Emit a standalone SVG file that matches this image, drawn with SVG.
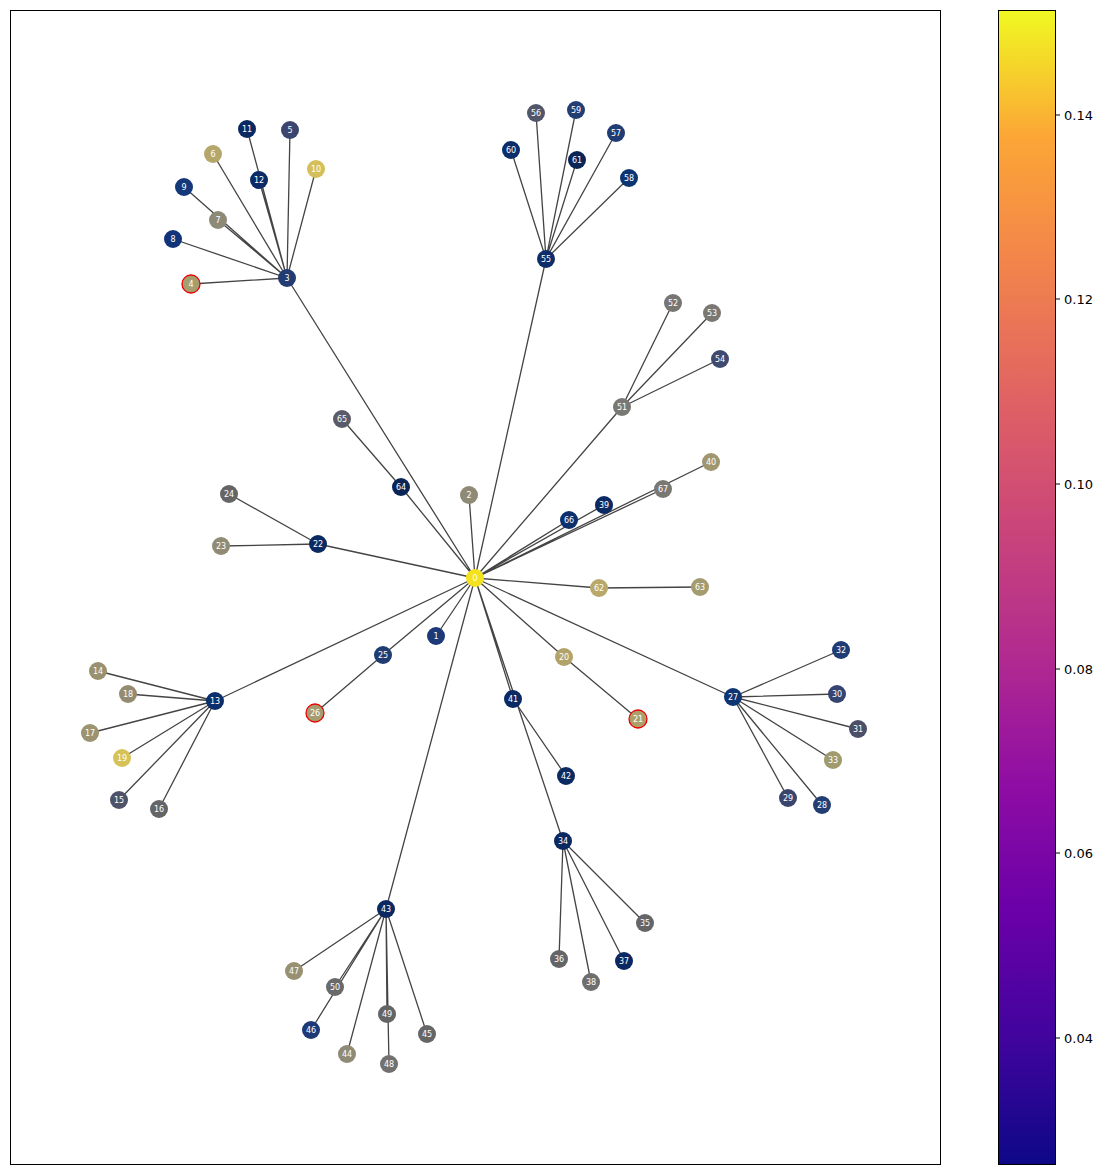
<svg xmlns="http://www.w3.org/2000/svg" width="1106" height="1175" viewBox="0 0 1106 1175">
<defs>
<linearGradient id="pl" x1="0" y1="1" x2="0" y2="0">
<stop offset="0" stop-color="#0d0887"/><stop offset="0.11" stop-color="#41049d"/><stop offset="0.22" stop-color="#6a00a8"/><stop offset="0.33" stop-color="#8f0da4"/><stop offset="0.44" stop-color="#b12a90"/><stop offset="0.56" stop-color="#cc4778"/><stop offset="0.67" stop-color="#e16462"/><stop offset="0.78" stop-color="#f2844b"/><stop offset="0.89" stop-color="#fca636"/><stop offset="1" stop-color="#f0f921"/>
</linearGradient>
<style>
.e{stroke:#444;stroke-width:1.3;fill:none}
.n circle{stroke:none}
text{font-family:"DejaVu Sans",sans-serif;font-size:8px;fill:#fff;text-anchor:middle;dominant-baseline:central}
.t{font-size:13px;fill:#000;text-anchor:start}
.n circle.r{stroke:#e00;stroke-width:1.3}
</style>
</defs>
<rect width="1106" height="1175" fill="#fff"/>
<rect x="10.5" y="10.5" width="930" height="1154" fill="none" stroke="#000"/>
<g id="edges">
<path class="e" d="M475 578L287 278M475 578L401 487M475 578L469 495M475 578L546 259M475 578L622 407M475 578L569 520M475 578L604 505M475 578L663 489M475 578L711 462M475 578L599 588M475 578L564 657M475 578L733 697M475 578L513 699M475 578L563 841M475 578L386 909M475 578L436 636M475 578L383 655M475 578L215 701M475 578L318 544"/>
<path class="e" d="M287 278L191 284M287 278L173 239M287 278L184 187M287 278L218 220M287 278L213 154M287 278L247 129M287 278L259 180M287 278L290 130M287 278L316 169"/>
<path class="e" d="M401 487L342 419M546 259L536 113M546 259L511 150M546 259L576 110M546 259L577 160M546 259L616 133M546 259L629 178M622 407L673 303M622 407L712 313M622 407L720 359M599 588L700 587M564 657L638 719M383 655L315 713M318 544L229 494M318 544L221 546"/>
<path class="e" d="M215 701L98 671M215 701L128 694M215 701L90 733M215 701L122 758M215 701L119 800M215 701L159 809"/>
<path class="e" d="M733 697L841 650M733 697L837 694M733 697L858 729M733 697L833 760M733 697L788 798M733 697L822 805"/>
<path class="e" d="M513 699L566 776M563 841L645 923M563 841L624 961M563 841L591 982M563 841L559 959"/>
<path class="e" d="M386 909L294 971M386 909L335 987M386 909L311 1030M386 909L347 1054M386 909L387 1014M386 909L389 1064M386 909L427 1034"/>
</g>
<g class="n">
<g id="n0"><circle cx="475" cy="578" r="9" fill="#f5e21f"/><text x="475" y="578">0</text></g>
<g id="n1"><circle cx="436" cy="636" r="9" fill="#1d3a78"/><text x="436" y="636">1</text></g>
<g id="n2"><circle cx="469" cy="495" r="9" fill="#8f8a75"/><text x="469" y="495">2</text></g>
<g id="n3"><circle cx="287" cy="278" r="9" fill="#223b70"/><text x="287" y="278">3</text></g>
<g id="n4"><circle cx="191" cy="284" r="9" fill="#a59e6f" class="r"/><text x="191" y="284">4</text></g>
<g id="n5"><circle cx="290" cy="130" r="9" fill="#3b4670"/><text x="290" y="130">5</text></g>
<g id="n6"><circle cx="213" cy="154" r="9" fill="#b5a76a"/><text x="213" y="154">6</text></g>
<g id="n7"><circle cx="218" cy="220" r="9" fill="#8d8a78"/><text x="218" y="220">7</text></g>
<g id="n8"><circle cx="173" cy="239" r="9" fill="#10337a"/><text x="173" y="239">8</text></g>
<g id="n9"><circle cx="184" cy="187" r="9" fill="#15387a"/><text x="184" y="187">9</text></g>
<g id="n10"><circle cx="316" cy="169" r="9" fill="#d4bf5a"/><text x="316" y="169">10</text></g>
<g id="n11"><circle cx="247" cy="129" r="9" fill="#0b2862"/><text x="247" y="129">11</text></g>
<g id="n12"><circle cx="259" cy="180" r="9" fill="#0b2a66"/><text x="259" y="180">12</text></g>
<g id="n13"><circle cx="215" cy="701" r="9" fill="#0d2e6c"/><text x="215" y="701">13</text></g>
<g id="n14"><circle cx="98" cy="671" r="9" fill="#999170"/><text x="98" y="671">14</text></g>
<g id="n15"><circle cx="119" cy="800" r="9" fill="#4e5368"/><text x="119" y="800">15</text></g>
<g id="n16"><circle cx="159" cy="809" r="9" fill="#656466"/><text x="159" y="809">16</text></g>
<g id="n17"><circle cx="90" cy="733" r="9" fill="#9c9470"/><text x="90" y="733">17</text></g>
<g id="n18"><circle cx="128" cy="694" r="9" fill="#938c73"/><text x="128" y="694">18</text></g>
<g id="n19"><circle cx="122" cy="758" r="9" fill="#d6c259"/><text x="122" y="758">19</text></g>
<g id="n20"><circle cx="564" cy="657" r="9" fill="#b2a36a"/><text x="564" y="657">20</text></g>
<g id="n21"><circle cx="638" cy="719" r="9" fill="#ae9f6a" class="r"/><text x="638" y="719">21</text></g>
<g id="n22"><circle cx="318" cy="544" r="9" fill="#0b2a62"/><text x="318" y="544">22</text></g>
<g id="n23"><circle cx="221" cy="546" r="9" fill="#918b75"/><text x="221" y="546">23</text></g>
<g id="n24"><circle cx="229" cy="494" r="9" fill="#666566"/><text x="229" y="494">24</text></g>
<g id="n25"><circle cx="383" cy="655" r="9" fill="#203c73"/><text x="383" y="655">25</text></g>
<g id="n26"><circle cx="315" cy="713" r="9" fill="#a59d6f" class="r"/><text x="315" y="713">26</text></g>
<g id="n27"><circle cx="733" cy="697" r="9" fill="#0f3472"/><text x="733" y="697">27</text></g>
<g id="n28"><circle cx="822" cy="805" r="9" fill="#223e73"/><text x="822" y="805">28</text></g>
<g id="n29"><circle cx="788" cy="798" r="9" fill="#3a456e"/><text x="788" y="798">29</text></g>
<g id="n30"><circle cx="837" cy="694" r="9" fill="#354470"/><text x="837" y="694">30</text></g>
<g id="n31"><circle cx="858" cy="729" r="9" fill="#4b4f68"/><text x="858" y="729">31</text></g>
<g id="n32"><circle cx="841" cy="650" r="9" fill="#1f3c75"/><text x="841" y="650">32</text></g>
<g id="n33"><circle cx="833" cy="760" r="9" fill="#a19a6f"/><text x="833" y="760">33</text></g>
<g id="n34"><circle cx="563" cy="841" r="9" fill="#0b2860"/><text x="563" y="841">34</text></g>
<g id="n35"><circle cx="645" cy="923" r="9" fill="#656467"/><text x="645" y="923">35</text></g>
<g id="n36"><circle cx="559" cy="959" r="9" fill="#666566"/><text x="559" y="959">36</text></g>
<g id="n37"><circle cx="624" cy="961" r="9" fill="#0b2860"/><text x="624" y="961">37</text></g>
<g id="n38"><circle cx="591" cy="982" r="9" fill="#706e6d"/><text x="591" y="982">38</text></g>
<g id="n39"><circle cx="604" cy="505" r="9" fill="#0b2a64"/><text x="604" y="505">39</text></g>
<g id="n40"><circle cx="711" cy="462" r="9" fill="#a09770"/><text x="711" y="462">40</text></g>
<g id="n41"><circle cx="513" cy="699" r="9" fill="#0b2a64"/><text x="513" y="699">41</text></g>
<g id="n42"><circle cx="566" cy="776" r="9" fill="#0b2a62"/><text x="566" y="776">42</text></g>
<g id="n43"><circle cx="386" cy="909" r="9" fill="#0b2860"/><text x="386" y="909">43</text></g>
<g id="n44"><circle cx="347" cy="1054" r="9" fill="#8f8a76"/><text x="347" y="1054">44</text></g>
<g id="n45"><circle cx="427" cy="1034" r="9" fill="#676667"/><text x="427" y="1034">45</text></g>
<g id="n46"><circle cx="311" cy="1030" r="9" fill="#1d3a76"/><text x="311" y="1030">46</text></g>
<g id="n47"><circle cx="294" cy="971" r="9" fill="#979072"/><text x="294" y="971">47</text></g>
<g id="n48"><circle cx="389" cy="1064" r="9" fill="#737170"/><text x="389" y="1064">48</text></g>
<g id="n49"><circle cx="387" cy="1014" r="9" fill="#666566"/><text x="387" y="1014">49</text></g>
<g id="n50"><circle cx="335" cy="987" r="9" fill="#6b6a6a"/><text x="335" y="987">50</text></g>
<g id="n51"><circle cx="622" cy="407" r="9" fill="#7a7874"/><text x="622" y="407">51</text></g>
<g id="n52"><circle cx="673" cy="303" r="9" fill="#787673"/><text x="673" y="303">52</text></g>
<g id="n53"><circle cx="712" cy="313" r="9" fill="#7a7873"/><text x="712" y="313">53</text></g>
<g id="n54"><circle cx="720" cy="359" r="9" fill="#3f4a70"/><text x="720" y="359">54</text></g>
<g id="n55"><circle cx="546" cy="259" r="9" fill="#0d2e6a"/><text x="546" y="259">55</text></g>
<g id="n56"><circle cx="536" cy="113" r="9" fill="#52566a"/><text x="536" y="113">56</text></g>
<g id="n57"><circle cx="616" cy="133" r="9" fill="#1f3c75"/><text x="616" y="133">57</text></g>
<g id="n58"><circle cx="629" cy="178" r="9" fill="#0f3472"/><text x="629" y="178">58</text></g>
<g id="n59"><circle cx="576" cy="110" r="9" fill="#223e75"/><text x="576" y="110">59</text></g>
<g id="n60"><circle cx="511" cy="150" r="9" fill="#0b2e6a"/><text x="511" y="150">60</text></g>
<g id="n61"><circle cx="577" cy="160" r="9" fill="#0b2456"/><text x="577" y="160">61</text></g>
<g id="n62"><circle cx="599" cy="588" r="9" fill="#b8a86a"/><text x="599" y="588">62</text></g>
<g id="n63"><circle cx="700" cy="587" r="9" fill="#a49b6e"/><text x="700" y="587">63</text></g>
<g id="n64"><circle cx="401" cy="487" r="9" fill="#0b2456"/><text x="401" y="487">64</text></g>
<g id="n65"><circle cx="342" cy="419" r="9" fill="#5a5b69"/><text x="342" y="419">65</text></g>
<g id="n66"><circle cx="569" cy="520" r="9" fill="#0b306c"/><text x="569" y="520">66</text></g>
<g id="n67"><circle cx="663" cy="489" r="9" fill="#7a7873"/><text x="663" y="489">67</text></g>
</g>
<g id="colorbar">
<rect x="998" y="10" width="58" height="1155" fill="url(#pl)"/>
<rect x="998.5" y="10.5" width="57" height="1154" fill="none" stroke="#000"/>
<path stroke="#000" d="M1056 1038h4M1056 853h4M1056 669h4M1056 484h4M1056 299h4M1056 115h4"/>
<text class="t" x="1064" y="1038">0.04</text>
<text class="t" x="1064" y="853">0.06</text>
<text class="t" x="1064" y="669">0.08</text>
<text class="t" x="1064" y="484">0.10</text>
<text class="t" x="1064" y="299">0.12</text>
<text class="t" x="1064" y="115">0.14</text>
</g>
</svg>
